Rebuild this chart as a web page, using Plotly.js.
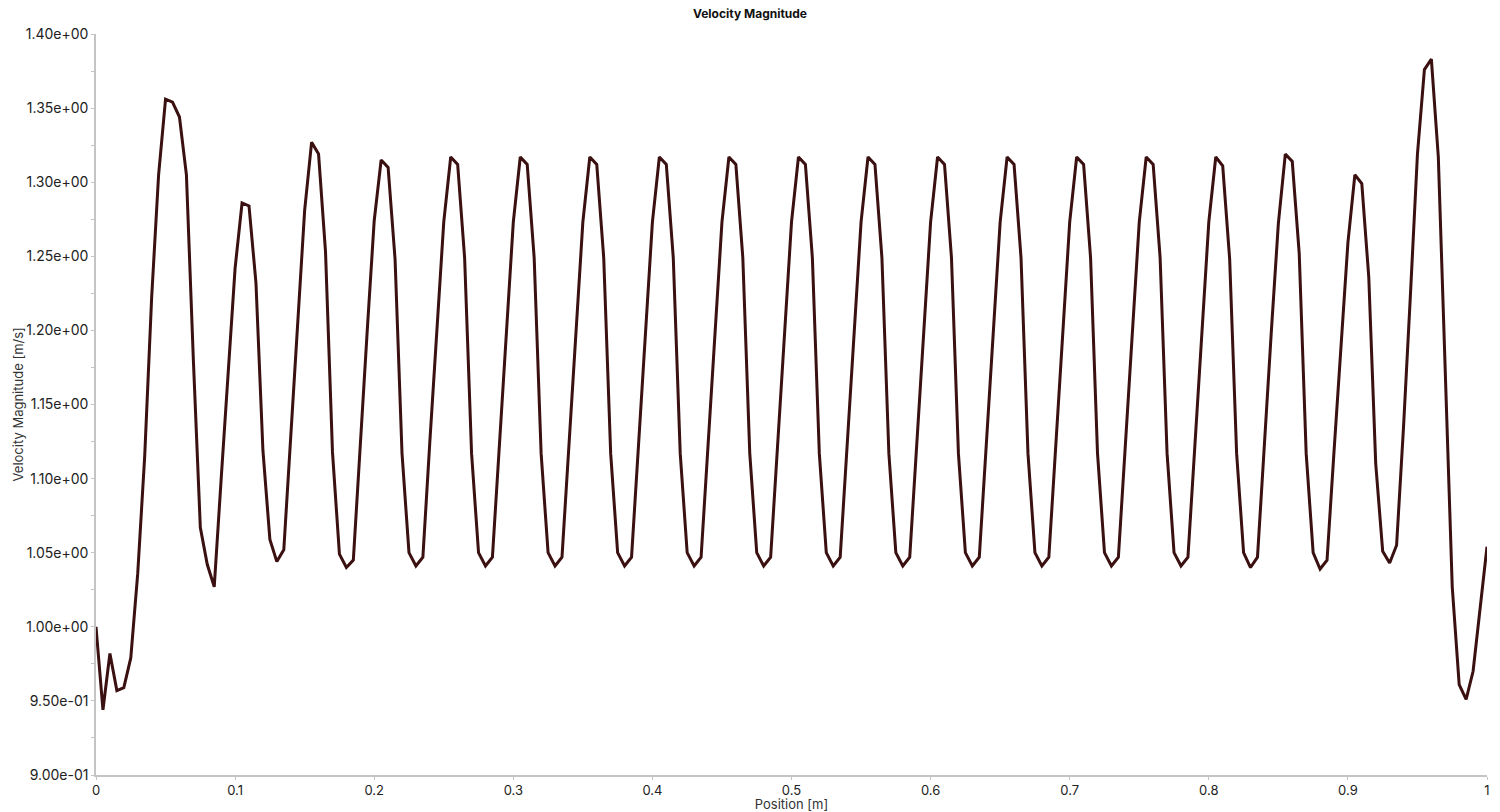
<!DOCTYPE html>
<html>
<head>
<meta charset="utf-8">
<script src="https://cdn.plot.ly/plotly-3.0.1.min.js"></script>
<style>
html,body{margin:0;padding:0;background:#fff;}
#chart{width:1500px;height:812px;}
</style>
</head>
<body>
<div id="chart"></div>
<script>
const positions = [
0,0.005,0.01,0.015,0.02,0.025,0.03,0.035,0.04,0.045,
0.05,0.055,0.06,0.065,0.07,0.075,0.08,0.085,0.09,0.095,
0.1,0.105,0.11,0.115,0.12,0.125,0.13,0.135,0.14,0.145,
0.15,0.155,0.16,0.165,0.17,0.175,0.18,0.185,0.19,0.195,
0.2,0.205,0.21,0.215,0.22,0.225,0.23,0.235,0.24,0.245,
0.25,0.255,0.26,0.265,0.27,0.275,0.28,0.285,0.29,0.295,
0.3,0.305,0.31,0.315,0.32,0.325,0.33,0.335,0.34,0.345,
0.35,0.355,0.36,0.365,0.37,0.375,0.38,0.385,0.39,0.395,
0.4,0.405,0.41,0.415,0.42,0.425,0.43,0.435,0.44,0.445,
0.45,0.455,0.46,0.465,0.47,0.475,0.48,0.485,0.49,0.495,
0.5,0.505,0.51,0.515,0.52,0.525,0.53,0.535,0.54,0.545,
0.55,0.555,0.56,0.565,0.57,0.575,0.58,0.585,0.59,0.595,
0.6,0.605,0.61,0.615,0.62,0.625,0.63,0.635,0.64,0.645,
0.65,0.655,0.66,0.665,0.67,0.675,0.68,0.685,0.69,0.695,
0.7,0.705,0.71,0.715,0.72,0.725,0.73,0.735,0.74,0.745,
0.75,0.755,0.76,0.765,0.77,0.775,0.78,0.785,0.79,0.795,
0.8,0.805,0.81,0.815,0.82,0.825,0.83,0.835,0.84,0.845,
0.85,0.855,0.86,0.865,0.87,0.875,0.88,0.885,0.89,0.895,
0.9,0.905,0.91,0.915,0.92,0.925,0.93,0.935,0.94,0.945,
0.95,0.955,0.96,0.965,0.97,0.975,0.98,0.985,0.99,0.995,
1.0
];
const velocity = [
1.000,0.944,0.982,0.957,0.959,0.979,1.036,1.115,1.222,1.305,
1.356,1.354,1.344,1.305,1.180,1.067,1.042,1.027,1.100,1.170,
1.242,1.286,1.284,1.232,1.119,1.059,1.044,1.052,1.129,1.205,
1.281,1.327,1.319,1.253,1.118,1.049,1.040,1.045,1.125,1.200,
1.274,1.315,1.310,1.248,1.117,1.050,1.041,1.047,1.125,1.200,
1.273,1.317,1.312,1.249,1.117,1.050,1.041,1.047,1.125,1.200,
1.273,1.317,1.312,1.249,1.117,1.050,1.041,1.047,1.125,1.200,
1.273,1.317,1.312,1.249,1.117,1.050,1.041,1.047,1.125,1.200,
1.273,1.317,1.312,1.249,1.117,1.050,1.041,1.047,1.125,1.200,
1.273,1.317,1.312,1.249,1.117,1.050,1.041,1.047,1.125,1.200,
1.273,1.317,1.312,1.249,1.117,1.050,1.041,1.047,1.125,1.200,
1.273,1.317,1.312,1.249,1.117,1.050,1.041,1.047,1.125,1.200,
1.273,1.317,1.312,1.249,1.117,1.050,1.041,1.047,1.125,1.200,
1.273,1.317,1.312,1.249,1.117,1.050,1.041,1.047,1.125,1.200,
1.273,1.317,1.312,1.249,1.117,1.050,1.041,1.047,1.125,1.200,
1.273,1.317,1.312,1.249,1.117,1.050,1.041,1.047,1.125,1.200,
1.273,1.317,1.311,1.248,1.117,1.050,1.040,1.047,1.125,1.200,
1.272,1.319,1.314,1.252,1.117,1.050,1.039,1.045,1.118,1.189,
1.259,1.305,1.299,1.236,1.110,1.051,1.043,1.055,1.135,1.225,
1.319,1.376,1.383,1.317,1.170,1.027,0.961,0.951,0.970,1.012,
1.054
];
const yTickVals = [0.9,0.95,1.0,1.05,1.1,1.15,1.2,1.25,1.3,1.35,1.4];
const yTickText = ["9.00e-01","9.50e-01","1.00e+00","1.05e+00","1.10e+00","1.15e+00","1.20e+00","1.25e+00","1.30e+00","1.35e+00","1.40e+00"];
const xTickVals = [0,0.1,0.2,0.3,0.4,0.5,0.6,0.7,0.8,0.9,1];
const xTickText = ["0","0.1","0.2","0.3","0.4","0.5","0.6","0.7","0.8","0.9","1"];
const yTitle = 'Velocity Magnitude [m/s]';
const xTitle = 'Position [m]';
const chartTitle = 'Velocity Magnitude';

const FONT = "Inter, Roboto, 'Open Sans', sans-serif";

const trace = {
  x: positions,
  y: velocity,
  type: 'scatter',
  mode: 'lines',
  line: {color: '#3a1010', width: 3},
  hoverinfo: 'x+y'
};

const layout = {
  width: 1500,
  height: 812,
  margin: {l: 96, r: 13, t: 34, b: 37},
  paper_bgcolor: '#ffffff',
  plot_bgcolor: '#ffffff',
  showlegend: false,
  font: {family: FONT, color: '#222', size: 13},
  title: {
    text: '<b>' + chartTitle + '</b>',
    font: {family: FONT, size: 12, color: '#111'},
    x: 0.5, xanchor: 'center', y: 0.988, yanchor: 'top'
  },
  xaxis: {
    range: [0, 1],
    tickvals: xTickVals,
    ticktext: xTickText,
    showgrid: false,
    zeroline: false,
    showline: true,
    linecolor: '#c4c4c4',
    linewidth: 1.5,
    ticks: 'outside',
    ticklen: 3,
    tickcolor: '#c4c4c4',
    tickfont: {family: FONT, size: 13, color: '#222'},
    title: {text: xTitle, font: {family: FONT, size: 13, color: '#333'}, standoff: 4}
  },
  yaxis: {
    range: [0.9, 1.4],
    tickvals: yTickVals,
    ticktext: yTickText,
    showgrid: false,
    zeroline: false,
    showline: true,
    linecolor: '#c4c4c4',
    linewidth: 1.5,
    ticks: 'outside',
    ticklen: 3,
    tickcolor: '#c4c4c4',
    minor: {dtick: 0.025, ticks: 'outside', ticklen: 3, tickcolor: '#c4c4c4', showgrid: false},
    tickfont: {family: FONT, size: 14, color: '#222'}
  },
  annotations: [{
    text: yTitle,
    xref: 'paper', yref: 'paper',
    x: -0.0561, y: 0.5,
    xanchor: 'center', yanchor: 'middle',
    textangle: -90,
    showarrow: false,
    font: {family: FONT, size: 13, color: '#333'}
  }]
};

Plotly.newPlot('chart', [trace], layout, {displayModeBar: false, responsive: false});
</script>
</body>
</html>
